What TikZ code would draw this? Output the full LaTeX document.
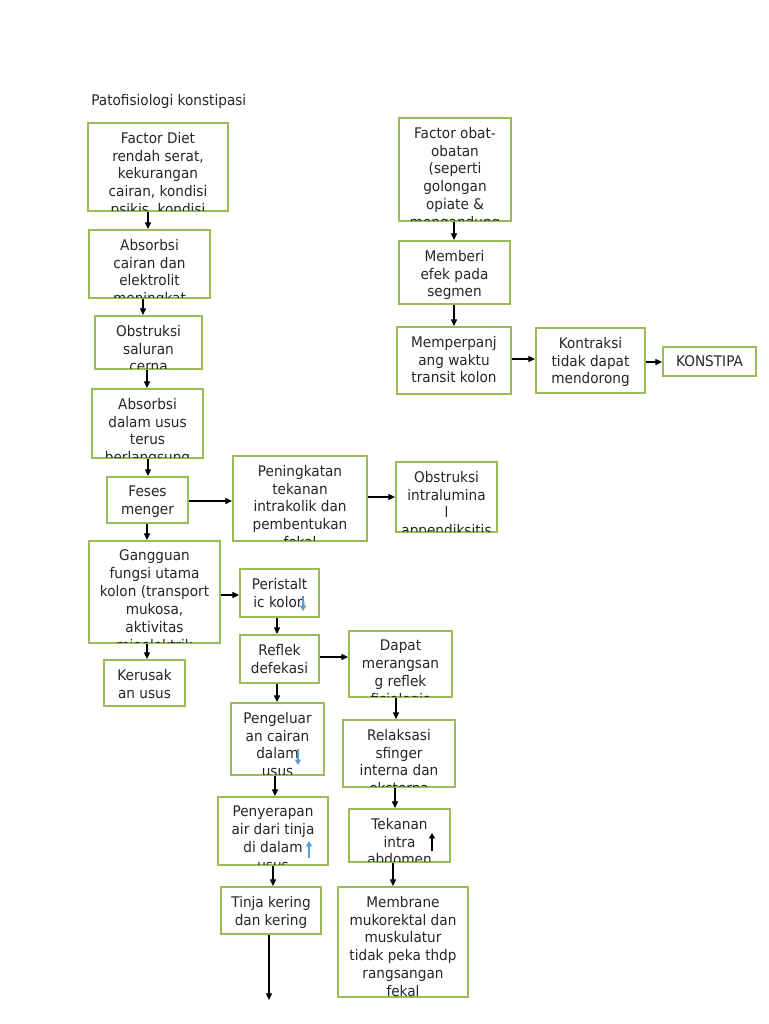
\documentclass[tikz,border=0pt]{standalone}
\usepackage{fontspec}
\setmainfont{DejaVu Sans}[FakeStretch=0.93]
\usepackage{tikz}
\usetikzlibrary{arrows.meta,fit}

\definecolor{boxgreen}{HTML}{9BBB59}
\definecolor{hintblue}{HTML}{5B9BD5}

\tikzset{
  box/.style={draw=boxgreen, line width=1.4pt, inner sep=0pt},
  txt/.style={anchor=north, inner sep=0pt, align=center, text=black!85,
    font=\fontsize{11}{13.4}\selectfont},
  arr/.style={-{Triangle[length=5pt,width=4.5pt]}, line width=0.8pt},
  hint/.style={-{Triangle[length=4pt,width=4.5pt]}, line width=1.3pt}
}

% text of a box, cut off at the box edge
\newcommand{\boxtext}[2]{%
  \begin{scope}
    \clip ([shift={(0.8pt,0.8pt)}]#1.south west) rectangle ([shift={(-0.8pt,-0.8pt)}]#1.north east);
    \node [txt] (#1-t) at ([yshift=-7.3pt]#1.north) {#2};
  \end{scope}}

\begin{document}
\begin{tikzpicture}[x=0.75pt, y=-0.75pt]
      \useasboundingbox [fill=white] (0,0) rectangle (768,1024);
      \node [anchor=base west, inner sep=0pt, text=black!85, font=\fontsize{11}{13.4}\selectfont] (title) at (91,105) {Patofisiologi konstipasi};

      % left column
      \node [box, fit={(88,123) (228,211)}] (diet) {};
      \node [box, fit={(89,230) (210,298)}] (abs1) {};
      \node [box, fit={(95,316) (202,369)}] (obs1) {};
      \node [box, fit={(92,389) (203,458)}] (abs2) {};
      \node [box, fit={(107,477) (188,523)}] (feses) {};
      \node [box, fit={(233,456) (367,541)}] (tekanan) {};
      \node [box, fit={(396,462) (497,532)}] (obs2) {};
      \node [box, fit={(89,541) (220,643)}] (gangguan) {};
      \node [box, fit={(240,569) (319,617)}] (peri) {};
      \node [box, fit={(240,635) (319,683)}] (reflek) {};
      \node [box, fit={(104,660) (185,706)}] (rusak) {};
      \node [box, fit={(349,631) (452,697)}] (dapat) {};
      \node [box, fit={(231,703) (324,775)}] (keluar) {};
      \node [box, fit={(343,720) (455,787)}] (relaks) {};
      \node [box, fit={(218,797) (328,865)}] (serap) {};
      \node [box, fit={(221,887) (321,934)}] (kering) {};
      \node [box, fit={(349,809) (450,862)}] (intra) {};
      \node [box, fit={(338,887) (468,997)}] (membran) {};

      % right column
      \node [box, fit={(399,118) (511,221)}] (obat) {};
      \node [box, fit={(399,241) (510,304)}] (efek) {};
      \node [box, fit={(397,327) (511,394)}] (panjang) {};
      \node [box, fit={(536,328) (645,393)}] (kontraksi) {};
      \node [box, fit={(663,347) (756,376)}] (konstipa) {};

      \boxtext{diet}{Factor Diet\\rendah serat,\\kekurangan\\cairan, kondisi\\psikis, kondisi}
      \boxtext{abs1}{Absorbsi\\cairan dan\\elektrolit\\meningkat}
      \boxtext{obs1}{Obstruksi\\saluran\\cerna}
      \boxtext{abs2}{Absorbsi\\dalam usus\\terus\\berlangsung}
      \boxtext{feses}{Feses\\menger}
      \boxtext{tekanan}{Peningkatan\\tekanan\\intrakolik dan\\pembentukan\\fekal}
      \boxtext{obs2}{Obstruksi\\intralumina\\l\\appendiksitis}
      \boxtext{gangguan}{Gangguan\\fungsi utama\\kolon (transport\\mukosa,\\aktivitas\\mioelektrik}
      \boxtext{peri}{Peristalt\\ic kolon}
      \boxtext{reflek}{Reflek\\defekasi}
      \boxtext{rusak}{Kerusak\\an usus}
      \boxtext{dapat}{Dapat\\merangsan\\g reflek\\fisiologis}
      \boxtext{keluar}{Pengeluar\\an cairan\\dalam\\usus}
      \boxtext{relaks}{Relaksasi\\sfinger\\interna dan\\eksterna}
      \boxtext{serap}{Penyerapan\\air dari tinja\\di dalam\\usus}
      \boxtext{kering}{Tinja kering\\dan kering}
      \boxtext{intra}{Tekanan\\intra\\abdomen}
      \boxtext{membran}{Membrane\\mukorektal dan\\muskulatur\\tidak peka thdp\\rangsangan\\fekal}
      \boxtext{obat}{Factor obat-\\obatan\\(seperti\\golongan\\opiate \&\\mengandung}
      \boxtext{efek}{Memberi\\efek pada\\segmen}
      \boxtext{panjang}{Memperpanj\\ang waktu\\transit kolon}
      \boxtext{kontraksi}{Kontraksi\\tidak dapat\\mendorong}
      \boxtext{konstipa}{KONSTIPA}

      % arrows
      \coordinate (end) at (269,1000);
      \draw [arr] (diet.south -| 148,0) -- (abs1.north -| 148,0);
      \draw [arr] (abs1.south -| 143,0) -- (obs1.north -| 143,0);
      \draw [arr] (obs1.south -| 147,0) -- (abs2.north -| 147,0);
      \draw [arr] (abs2.south -| 148,0) -- (feses.north -| 148,0);
      \draw [arr] (feses.east |- 0,501) -- (tekanan.west |- 0,501);
      \draw [arr] (tekanan.east |- 0,497) -- (obs2.west |- 0,497);
      \draw [arr] (feses.south -| 147,0) -- (gangguan.north -| 147,0);
      \draw [arr] (gangguan.east |- 0,595) -- (peri.west |- 0,595);
      \draw [arr] (peri.south -| 277,0) -- (reflek.north -| 277,0);
      \draw [arr] (gangguan.south -| 147,0) -- (rusak.north -| 147,0);
      \draw [arr] (reflek.east |- 0,657) -- (dapat.west |- 0,657);
      \draw [arr] (reflek.south -| 277,0) -- (keluar.north -| 277,0);
      \draw [arr] (dapat.south -| 396,0) -- (relaks.north -| 396,0);
      \draw [arr] (keluar.south -| 275,0) -- (serap.north -| 275,0);
      \draw [arr] (relaks.south -| 395,0) -- (intra.north -| 395,0);
      \draw [arr] (serap.south -| 273,0) -- (kering.north -| 273,0);
      \draw [arr] (intra.south -| 393,0) -- (membran.north -| 393,0);
      \draw [arr] (kering.south -| 269,0) -- (end);
      \draw [arr] (obat.south -| 454,0) -- (efek.north -| 454,0);
      \draw [arr] (efek.south -| 454,0) -- (panjang.north -| 454,0);
      \draw [arr] (panjang.east |- 0,359) -- (kontraksi.west |- 0,359);
      \draw [arr] (kontraksi.east |- 0,362) -- (konstipa.west |- 0,362);

      % small up and down marks
      \draw [hint, hintblue] (303,596) -- (303,611);
      \draw [hint, hintblue] (298,749) -- (298,765);
      \draw [hint, hintblue] (309,858) -- (309,841);
      \draw [hint, black] (432,851) -- (432,833);
\end{tikzpicture}
\end{document}
